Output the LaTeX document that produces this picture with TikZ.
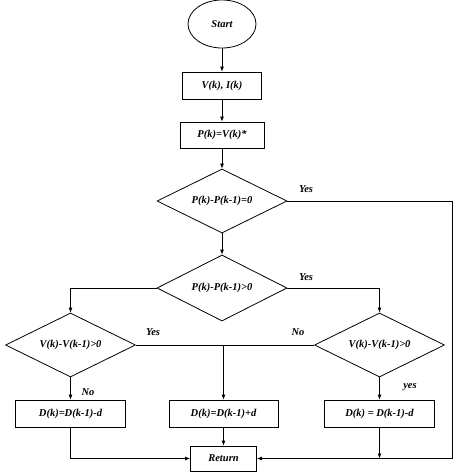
\documentclass[tikz,border=0pt]{standalone}
\usepackage{fontspec}
\setmainfont{Liberation Serif}
\usetikzlibrary{shapes.geometric,arrows.meta}

\begin{document}
\begin{tikzpicture}[x=1pt,y=-1pt,
	every node/.style={inner sep=0pt,font=\fontsize{10.5}{12}\selectfont\bfseries\itshape},
	block/.style={draw,rectangle,minimum width=110pt,minimum height=27pt},
	cond/.style={draw,diamond,aspect=2,minimum width=130pt,minimum height=64pt},
	flow/.style={-{Latex[length=5pt,width=4pt]}},
	line width=0.8pt]
				\useasboundingbox (0,0) rectangle (474,474);
				\node [draw,ellipse,minimum width=68pt,minimum height=48pt] (start) at (222,24) {Start};
				\node [block,minimum width=79pt] (read) at (222,85.5) {V(k), I(k)};
				\node [block,minimum width=84pt,minimum height=26pt] (power) at (222,135) {P(k)=V(k)*};
				\node [cond] (dP0) at (222,201) {P(k)-P(k-1)=0};
				\node [cond,minimum height=66pt] (dPpos) at (222,288) {P(k)-P(k-1)>0};
				\node [cond] (dVleft) at (70.5,345) {V(k)-V(k-1)>0};
				\node [cond] (dVright) at (379.5,345) {V(k)-V(k-1)>0};
				\node [block] (decL) at (70.5,413.5) {D(k)=D(k-1)-d};
				\node [block,minimum width=109pt] (incM) at (223.5,413.5) {D(k)=D(k-1)+d};
				\node [block] (decR) at (379.5,413.5) {D(k) = D(k-1)-d};
				\node [block,minimum width=66pt,minimum height=25pt] (ret) at (223.5,458.5) {Return};
				\coordinate (loop) at (452,458.5);
				\coordinate (join) at (incM.north |- dVleft.east);
				% main column
				\draw [flow] (start) -- (read);
				\draw [flow] (read) -- (power);
				\draw [flow] (power) -- (dP0);
				\draw [flow] (dP0) -- (dPpos);
				% yes of first test back to return
				\draw [flow] (dP0.east) -| (loop) -- (ret.east);
				\node at (306,189) {Yes};
				% second test
				\draw [flow] (dPpos.east) -| (dVright.north);
				\node at (306,277) {Yes};
				\draw [flow] (dPpos.west) -| (dVleft.north);
				% voltage tests
				\draw (dVleft.east) -- (dVright.west);
				\node at (153,332) {Yes};
				\node at (298,332) {No};
				\draw [flow] (join) -- (incM.north);
				\draw [flow] (dVleft.south) -- (decL.north);
				\node at (88,392) {No};
				\draw [flow] (dVright.south) -- (decR.north);
				\node at (410,387) {yes};
				% to return
				\draw [flow] (decL.south) |- (ret.west);
				\draw [flow] (incM.south) -- (ret.north);
				\draw [flow] (decR.south) -- (decR.south |- ret.east);
				\end{tikzpicture}
\end{document}
